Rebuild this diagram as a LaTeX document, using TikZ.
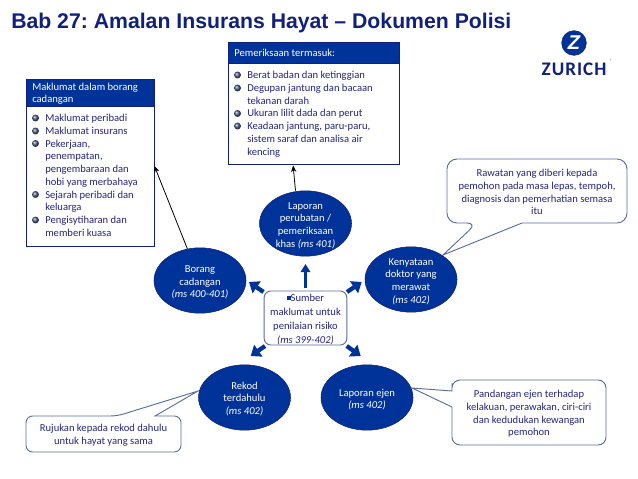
\documentclass[tikz,border=0pt]{standalone}
\usepackage{fontspec}
\setmainfont{Carlito}
\newfontfamily\titlefont{Liberation Sans}
\newfontfamily\logofont[LetterSpace=5]{Carlito}
\usetikzlibrary{shapes.geometric,arrows.meta}
\definecolor{zblue}{HTML}{003399}
\definecolor{ztext}{HTML}{25257F}
\definecolor{ztitle}{HTML}{11207A}
\definecolor{zedge}{HTML}{5A6E9E}
\definecolor{zball}{HTML}{4A5C85}
\frenchspacing
\tikzset{
  x=0.75pt,y=-0.75pt,
  txt/.style={inner sep=0pt,font=\fontsize{7.95}{9.55}\selectfont,text=ztext},
  headtxt/.style={txt,text=white,align=left,anchor=north west},
  listtxt/.style={txt,align=left,anchor=north west},
  framebox/.style={draw=ztitle,line width=0.65pt,fill=white},
  headbox/.style={draw=ztitle,line width=0.65pt,fill=zblue},
  blob/.style={ellipse,fill=zblue,draw=ztitle,line width=0.4pt,inner sep=0pt,minimum width=69pt,minimum height=49pt},
  blobtxt/.style={txt,text=white,align=center},
  calloutshape/.style={draw=zedge,line width=0.7pt,fill=white},
  calltxt/.style={txt,align=center},
  thinarrow/.style={draw=black,line width=0.6pt,-{Stealth[length=5pt,width=4pt]}},
  bigarrow/.style={draw=zblue,line width=3.2pt,-{Triangle[length=7pt,width=10.5pt]}},
  uparrow/.style={draw=zblue,line width=2.4pt,-{Triangle[length=6pt,width=7pt]}},
  ball/.style={circle,inner sep=0pt,minimum size=5.2pt,shading=ball,ball color=zball},
}
\begin{document}
\begin{tikzpicture}
\useasboundingbox (0,0) rectangle (638,478);
\fill[white] (0,0) rectangle (638,478);

% title
\node[anchor=base west,inner sep=0pt,text=ztitle,font=\titlefont\bfseries\fontsize{15.92}{18}\selectfont] (title) at (11,29) {\frenchspacing Bab 27: Amalan Insurans Hayat – Dokumen Polisi};

% logo
\node[circle,fill=zblue,draw=ztitle,line width=0.4pt,minimum size=18.5pt,inner sep=0pt] (logo) at (574,43) {};
\node[inner sep=0pt,text=white,font=\titlefont\bfseries\itshape\fontsize{15}{15}\selectfont] (logoz) at (logo) {Z};
\node[inner sep=0pt,anchor=base,text=ztitle,font=\logofont\bfseries\fontsize{14.4}{15}\selectfont] (logotext) at (574,75) {ZURICH};
\node[inner sep=0pt,text=zedge,font=\fontsize{3.5}{4}\selectfont] (logoreg) at (611,61) {®};

% left box
\path[framebox] (26,79) rectangle (154,246);
\path[headbox] (26,79) rectangle (154,106);
\node[headtxt,font=\fontsize{7.95}{9}\selectfont] (lefthead) at (32,83) {Maklumat dalam borang\\cadangan};
\node[listtxt] (leftlist) at (45,114) {Maklumat peribadi\\Maklumat insurans\\Pekerjaan,\\penempatan,\\pengembaraan dan\\hobi yang merbahaya\\Sejarah peribadi dan\\keluarga\\Pengisytiharan dan\\memberi kuasa};
\node[inner sep=0pt] (leftedge) at (154,165) {};
\foreach \y in {118,131,143.5,194.5,220} \node[ball] at (35.5,\y) {};

% top box
\path[framebox] (228,42) rectangle (399,164);
\path[headbox] (228,42) rectangle (399,63);
\node[headtxt] (tophead) at (234,48.5) {Pemeriksaan termasuk:};
\node[listtxt] (toplist) at (247,71) {Berat badan dan ketinggian\\Degupan jantung dan bacaan\\tekanan darah\\Ukuran lilit dada dan perut\\Keadaan jantung, paru-paru,\\sistem saraf dan analisa air\\kencing};
\node[inner sep=0pt] (topedge) at (293,164.5) {};
\foreach \y in {75,88,113.5,126} \node[ball] at (237.5,\y) {};

% callouts
\coordinate (tipA) at (443,255);
\coordinate (tipB) at (412,388);
\coordinate (tipC) at (198,391);
\path[calloutshape] (477,223) [sharp corners] -- (tipA) -- (522,223) [rounded corners=7.5pt] -- (627,223) -- (627,159) -- (447,159) -- (447,223) -- cycle;
\path[calloutshape] (452,391) [sharp corners] -- (tipB) -- (452,407) [rounded corners=6pt] -- (452,445) -- (606,445) -- (606,380) -- (452,380) -- (452,391) [sharp corners] -- cycle;
\path[calloutshape] (117,416) [sharp corners] -- (tipC) -- (155,416) [rounded corners=5pt] -- (181,416) -- (181,452) -- (26,452) -- (26,416) -- cycle;
\node[calltxt] (callA) at (537,192) {Rawatan yang diberi kepada\\pemohon pada masa lepas, tempoh,\\diagnosis dan pemerhatian semasa\\itu};
\node[calltxt] (callB) at (529,414) {Pandangan ejen terhadap\\kelakuan, perawakan, ciri-ciri\\dan kedudukan kewangan\\pemohon};
\node[calltxt] (callC) at (103.5,435.5) {Rujukan kepada rekod dahulu\\untuk hayat yang sama};

% ellipses
\node[blob] (borang) at (200,280.5) {};
\node[blob] (kenyataan) at (411,279.5) {};
\node[blob] (laporan) at (305.5,223.5) {};
\node[blob] (rekod) at (244.5,397.5) {};
\node[blob] (ejen) at (367,397.5) {};
\node[blobtxt] (borangtxt) at (200,282.5) {Borang\\cadangan\\\textit{(ms 400-401)}};
\node[blobtxt] (kenyataantxt) at (411,281.5) {Kenyataan\\doktor yang\\merawat\\\textit{(ms 402)}};
\node[blobtxt] (laporantxt) at (305.5,225.5) {Laporan\\perubatan /\\pemeriksaan\\khas \textit{(ms 401)}};
\node[blobtxt] (rekodtxt) at (244.5,399) {Rekod\\terdahulu\\\textit{(ms 402)}};
\node[blobtxt] (ejentxt) at (367,399.5) {Laporan ejen\\\textit{(ms 402)}};

% centre box
\node[draw=zedge,line width=0.7pt,fill=white,rounded corners=5pt,minimum width=62pt,minimum height=40.5pt,inner sep=0pt] (centre) at (305.5,318) {};
\node[txt,align=center,font=\fontsize{7.95}{10.4}\selectfont] (centretxt) at (305.5,319.5) {\textcolor{zblue}{\rule[1.3pt]{2.8pt}{2.8pt}}Sumber\\maklumat untuk\\penilaian risiko\\\textit{(ms 399-402)}};

% thin connectors
\draw[thinarrow] (borang) -- (leftedge);
\draw[thinarrow] (laporan.north) ++(-10,0) -- (topedge);

% big arrows
\coordinate (upA) at (305.5,288);
\coordinate (upB) at (305.5,264);
\coordinate (ulA) at (263.5,292);
\coordinate (ulB) at (249,282);
\coordinate (urA) at (347,292);
\coordinate (urB) at (361.7,282);
\coordinate (dlA) at (265,346);
\coordinate (dlB) at (250.7,356);
\coordinate (drA) at (346.7,346);
\coordinate (drB) at (360.7,356);
\draw[uparrow] (upA) -- (upB);
\draw[bigarrow] (ulA) -- (ulB);
\draw[bigarrow] (urA) -- (urB);
\draw[bigarrow] (dlA) -- (dlB);
\draw[bigarrow] (drA) -- (drB);
\end{tikzpicture}
\end{document}
